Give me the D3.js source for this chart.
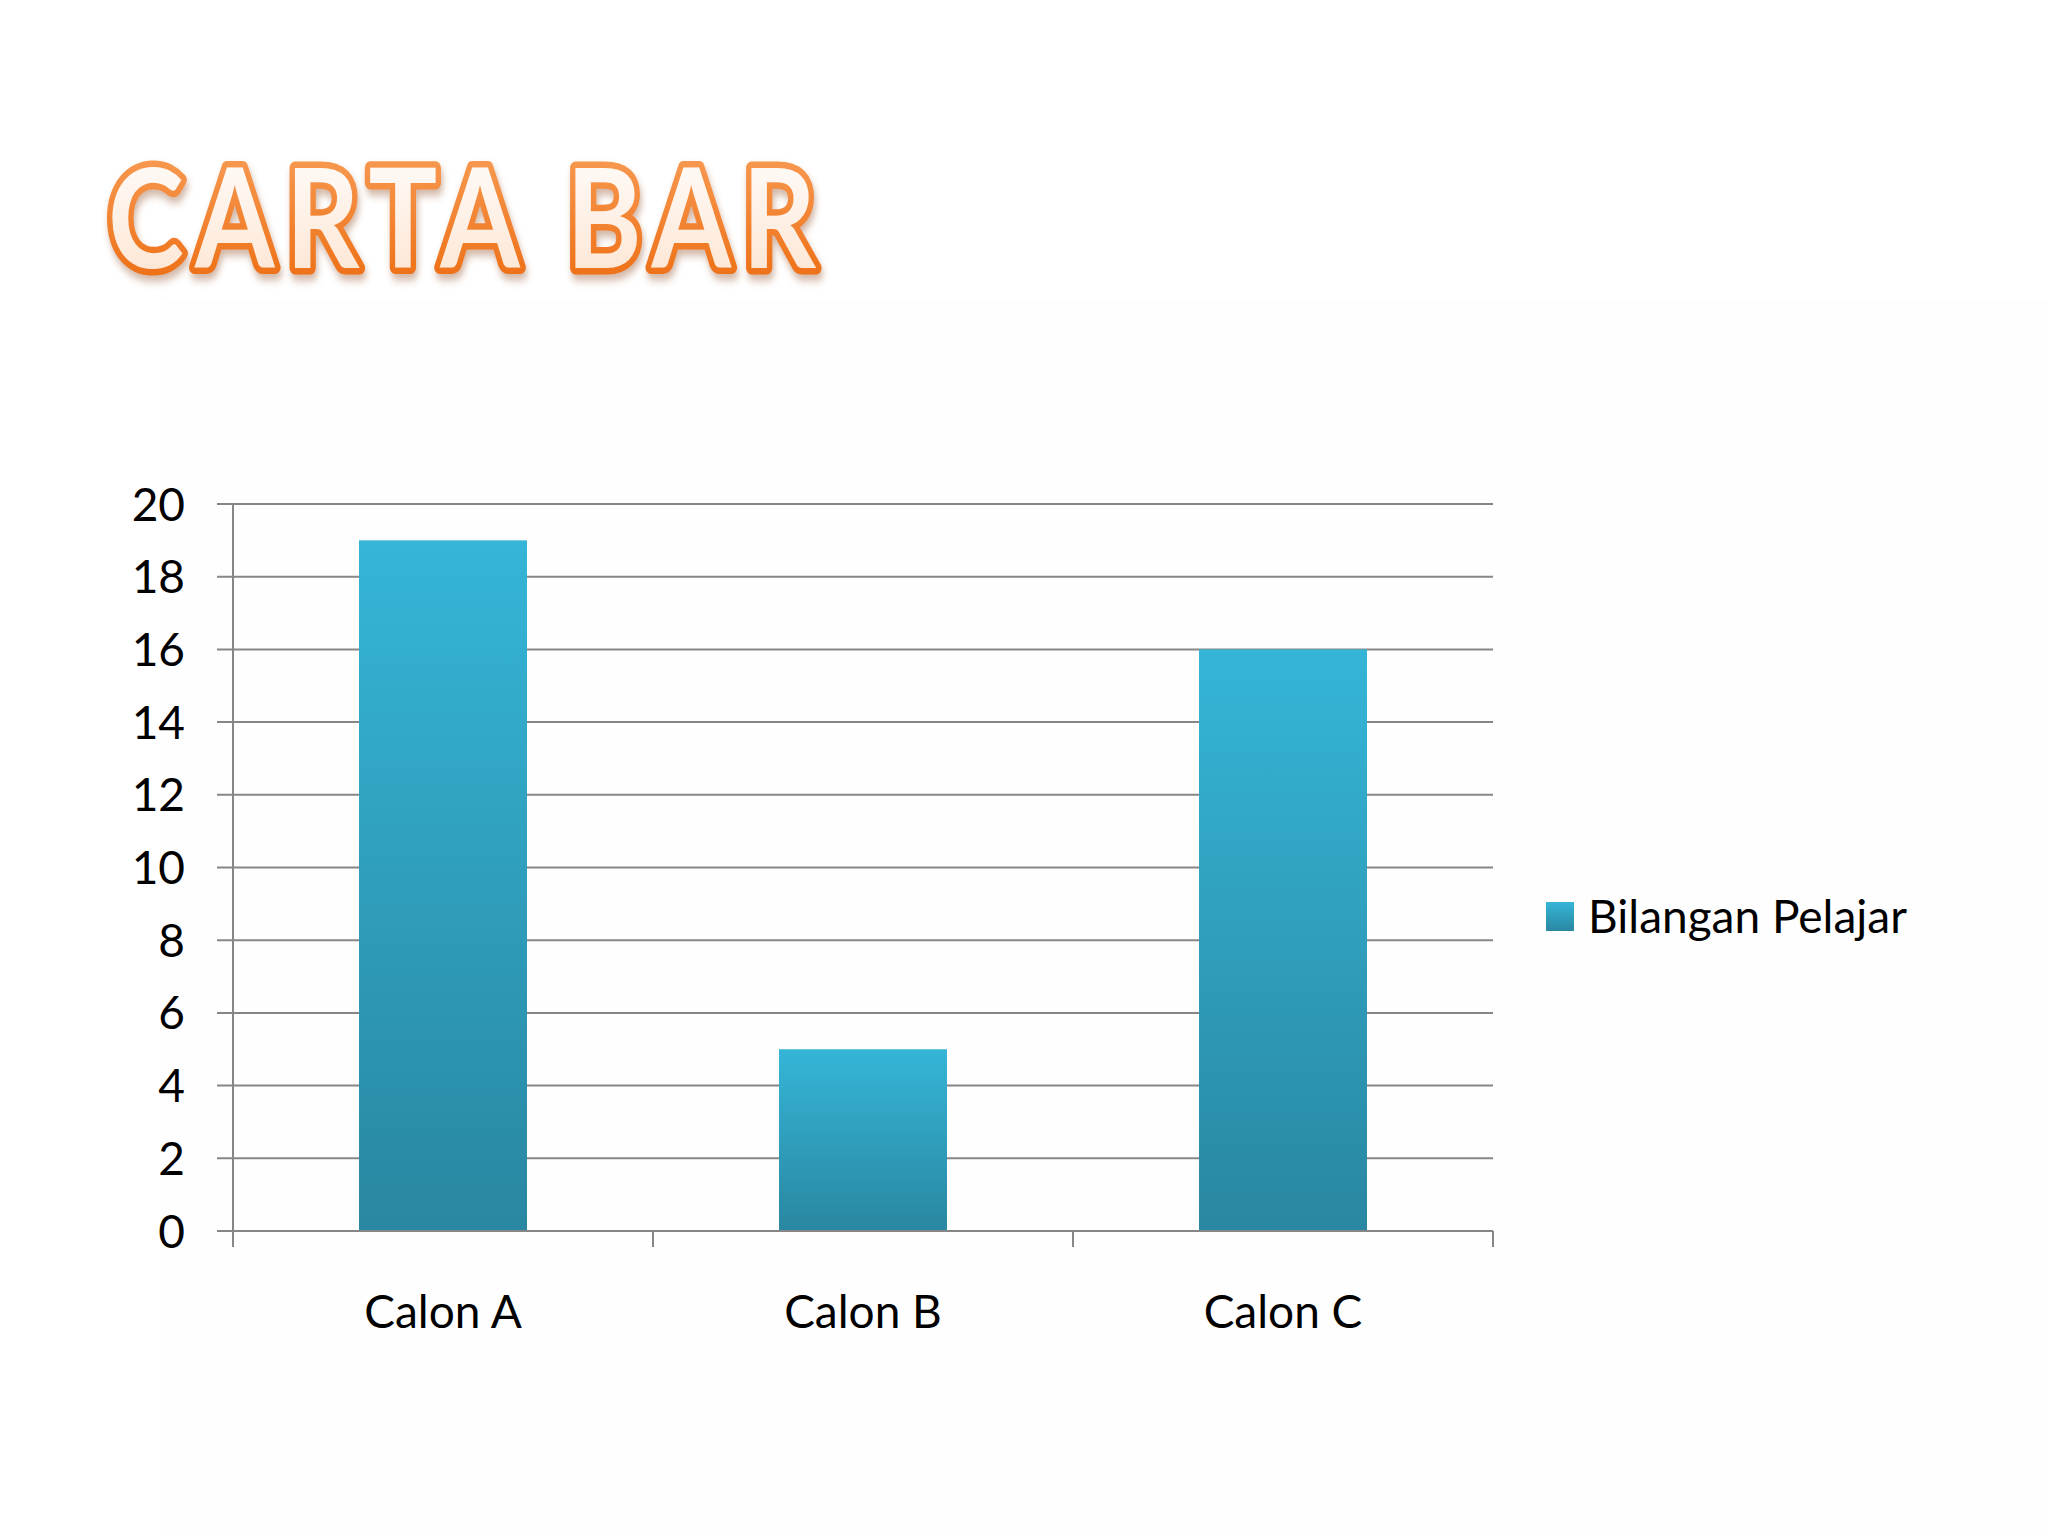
<!DOCTYPE html>
<html><head><meta charset="utf-8">
<script src="https://cdn.jsdelivr.net/npm/d3@7"></script>
<style>
html,body{margin:0;padding:0;background:#ffffff;}
svg{display:block;}
</style></head>
<body>
<script>
const categories = ["Calon A", "Calon B", "Calon C"];
const values = [19, 5, 16];
const seriesName = "Bilangan Pelajar";
const yTicks = [0, 2, 4, 6, 8, 10, 12, 14, 16, 18, 20];
const titleText = "CARTA BAR";

const W = 2048, H = 1536;
const svg = d3.select("body").append("svg").attr("width", W).attr("height", H);
const defs = svg.append("defs");

// background
svg.append("rect").attr("width", W).attr("height", H).attr("fill", "#ffffff");
svg.append("rect").attr("x", 162).attr("y", 300).attr("width", 1886).attr("height", 1236).attr("fill", "#fefefe");

// gradients
const bg = defs.append("linearGradient").attr("id", "barGrad").attr("x1", 0).attr("y1", 0).attr("x2", 0).attr("y2", 1);
bg.append("stop").attr("offset", "0%").attr("stop-color", "#35b5d7");
bg.append("stop").attr("offset", "100%").attr("stop-color", "#2987a1");

const tf = defs.append("linearGradient").attr("id", "titleFill").attr("x1", 0).attr("y1", 0).attr("x2", 0).attr("y2", 1);
tf.append("stop").attr("offset", "0%").attr("stop-color", "#ffffff");
tf.append("stop").attr("offset", "100%").attr("stop-color", "#fde3cf");
const ts = defs.append("linearGradient").attr("id", "titleStroke").attr("x1", 0).attr("y1", 0).attr("x2", 0).attr("y2", 1);
ts.append("stop").attr("offset", "0%").attr("stop-color", "#f9a15c");
ts.append("stop").attr("offset", "100%").attr("stop-color", "#ec6a0e");

const sh = defs.append("filter").attr("id", "shadow").attr("x", "-10%").attr("y", "-20%").attr("width", "120%").attr("height", "150%");
sh.append("feDropShadow").attr("dx", 2).attr("dy", 6).attr("stdDeviation", 4).attr("flood-color", "#9a5a30").attr("flood-opacity", 0.45);

// title
const titleScaleX = 0.83;
svg.append("g")
  .attr("transform", `translate(108,268) scale(${titleScaleX},1)`)
  .attr("filter", "url(#shadow)")
  .append("text")
  .attr("x", 0).attr("y", 0)
  .attr("font-family", "Lato, 'Open Sans', sans-serif")
  .attr("font-weight", 700)
  .attr("font-size", 138)
  .attr("textLength", 708 / titleScaleX)
  .attr("lengthAdjust", "spacing")
  .attr("fill", "url(#titleFill)")
  .attr("stroke", "url(#titleStroke)")
  .attr("stroke-width", 13)
  .attr("stroke-linejoin", "round")
  .attr("paint-order", "stroke")
  .text(titleText);

// chart
const x0 = 233, x1 = 1493, yTop = 504, yBot = 1231;
const x = d3.scaleBand().domain(categories).range([x0, x1]).paddingInner(0.6).paddingOuter(0.3);
const y = d3.scaleLinear().domain([0, 20]).range([yBot, yTop]);
const font = "Lato, 'Open Sans', sans-serif";
const axisColor = "#868686";

// gridlines
svg.append("g").selectAll("line").data(yTicks).join("line")
  .attr("x1", x0 - 16).attr("x2", x1)
  .attr("y1", d => y(d)).attr("y2", d => y(d))
  .attr("stroke", axisColor).attr("stroke-width", 2);

// y axis line
svg.append("line").attr("x1", x0).attr("x2", x0).attr("y1", yTop).attr("y2", yBot + 16)
  .attr("stroke", axisColor).attr("stroke-width", 2);

// y labels
svg.append("g").selectAll("text").data(yTicks).join("text")
  .attr("x", 185).attr("y", d => y(d))
  .attr("dy", "0.36em")
  .attr("text-anchor", "end")
  .attr("font-family", font).attr("font-size", 46).attr("fill", "#000")
  .text(d => d);

// bars
svg.append("g").selectAll("rect").data(values).join("rect")
  .attr("x", (d, i) => x(categories[i]))
  .attr("width", x.bandwidth())
  .attr("y", d => y(d))
  .attr("height", d => y(0) - y(d))
  .attr("fill", "url(#barGrad)");

// x axis baseline and category ticks
svg.append("line").attr("x1", x0 - 16).attr("x2", x1).attr("y1", yBot).attr("y2", yBot)
  .attr("stroke", axisColor).attr("stroke-width", 2);
const bounds = [x0, ...categories.map(c => x(c) - x.step() * x.paddingInner() / 2 + x.step())];
svg.append("g").selectAll("line").data(bounds).join("line")
  .attr("x1", d => d).attr("x2", d => d)
  .attr("y1", yBot).attr("y2", yBot + 16)
  .attr("stroke", axisColor).attr("stroke-width", 2);

// x labels
svg.append("g").selectAll("text").data(categories).join("text")
  .attr("x", d => x(d) + x.bandwidth() / 2)
  .attr("y", 1328)
  .attr("text-anchor", "middle")
  .attr("font-family", font).attr("font-size", 46).attr("fill", "#000")
  .text(d => d);

// legend
svg.append("rect").attr("x", 1546).attr("y", 902).attr("width", 28).attr("height", 29).attr("fill", "url(#barGrad)");
svg.append("text").attr("x", 1588).attr("y", 933)
  .attr("font-family", font).attr("font-size", 46).attr("fill", "#000")
  .text(seriesName);
</script>
</body></html>
